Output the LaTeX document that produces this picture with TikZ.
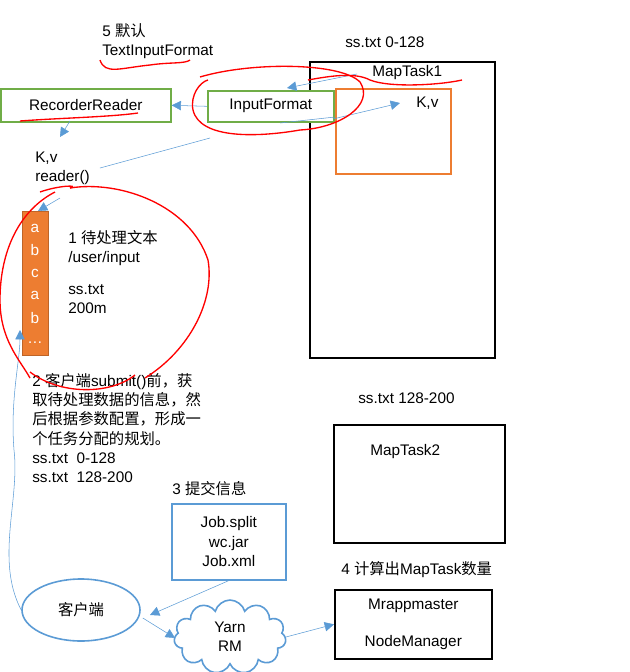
\documentclass[tikz,border=0pt]{standalone}
\usepackage{fontspec}
\setmainfont{Liberation Sans}
\newfontfamily\cjk{Noto Sans CJK SC}
\newcommand{\zh}[1]{{\cjk #1}}
\usetikzlibrary{shapes.geometric,shapes.symbols,arrows.meta}
\definecolor{gbox}{RGB}{112,173,71}
\definecolor{obox}{RGB}{237,125,49}
\definecolor{bl}{RGB}{91,155,213}
\begin{document}
\begin{tikzpicture}[x=0.75pt,y=-0.75pt,
  txt/.style={font=\fontsize{11.5}{14.5}\selectfont,inner sep=0pt,anchor=west,align=left},
  arr/.style={-{Triangle[length=7pt,width=7pt]},draw=bl,thin},
  ln/.style={draw=bl,thin},
  red/.style={draw=red,line width=1pt}]
\useasboundingbox (0,0) rectangle (630,672);
\node[txt] (t5) at (102,41) {5 \zh{默认}\\TextInputFormat};
\node[txt] (s1) at (345,42) {ss.txt 0-128};
\node[draw,line width=1.2pt,minimum width=185*0.75pt,minimum height=296*0.75pt,anchor=north west] (m1) at (309,61) {};
\node[txt] (m1l) at (372,73) {MapTask1};
\node[draw=obox,line width=1.2pt,minimum width=115*0.75pt,minimum height=85*0.75pt,anchor=north west] (ob) at (335,88) {};
\node[txt] (kv1) at (416,103) {K,v};
\node[draw=gbox,line width=1.2pt,fill=white,minimum width=170*0.75pt,minimum height=33*0.75pt,anchor=north west,font=\fontsize{11.5}{14}\selectfont] (rr) at (0,88) {RecorderReader};
\node[draw=gbox,line width=1.2pt,fill=white,minimum width=126*0.75pt,minimum height=31*0.75pt,anchor=north west,font=\fontsize{11.5}{14}\selectfont] (inf) at (207,90) {InputFormat};
\node[txt] (kv2) at (35,168) {K,v\\reader()};
\coordinate (lnA) at (100,168);
\coordinate (lnB) at (335,117);
\draw[arr] (inf.west) -- (rr.east);
\draw[arr] (357,74) -- (287,88);
\draw[arr] (333,119) -- (400,103);
\draw[arr] (70,121) -- (60,137);
\draw[ln] (lnA) -- (210,138);
\draw[ln] (280,123) -- (lnB);
\node[draw=obox!80!black,fill=obox,minimum width=26*0.75pt,minimum height=144*0.75pt,anchor=north west,inner sep=0pt] (bar) at (22,211) {};
\foreach \c/\y in {a/228,b/250,c/273,a/295,b/318,\dots/343}
  \node[text=white,font=\fontsize{11.5}{14}\selectfont] at (35,\y) {\c};
\draw[arr] (60,198) -- (38,211);
\node[txt] (t1) at (68,248) {1 \zh{待处理文本}\\/user/input};
\node[txt] (t1b) at (68,299) {ss.txt\\200m};
\node[txt] (t2) at (32,428) {2 \zh{客户端}submit()\zh{前，获}\\\zh{取待处理数据的信息，然}\\\zh{后根据参数配置，形成一}\\\zh{个任务分配的规划。}\\ss.txt\ \ 0-128\\ss.txt\ \ 128-200};
\node[txt] (s2) at (358,398) {ss.txt 128-200};
\node[draw,line width=1.2pt,minimum width=171*0.75pt,minimum height=118*0.75pt,anchor=north west] (m2) at (333,424) {};
\node[txt] (m2l) at (370,452) {MapTask2};
\node[txt] (t3) at (172,489) {3 \zh{提交信息}};
\node[draw=bl,line width=1.2pt,minimum width=114*0.75pt,minimum height=76*0.75pt,anchor=north west,align=center,font=\fontsize{11.5}{14.5}\selectfont] (job) at (171,503) {Job.split\\wc.jar\\Job.xml};
\node[txt] (t4) at (341,570) {4 \zh{计算出}MapTask\zh{数量}};
\node[draw,line width=1.2pt,minimum width=157*0.75pt,minimum height=69*0.75pt,anchor=north west,align=center,font=\fontsize{11.5}{22}\selectfont] (nm) at (334,589) {Mrappmaster\\[6pt]NodeManager};
\node[ellipse,draw=bl,line width=1.2pt,minimum width=118*0.75pt,minimum height=62*0.75pt,font=\cjk\fontsize{11.5}{14}\selectfont] (cl) at (81,610) {客户端};
\node[cloud,draw=bl,line width=1.2pt,cloud puffs=11,aspect=1.8,minimum width=112*0.75pt,minimum height=62*0.75pt,align=center,font=\fontsize{11.5}{14.5}\selectfont] (rm) at (230,637) {Yarn\\RM};
\draw[arr] (cl.east) ++(2,8) -- (175,638);
\draw[arr] (job.south) -- (150,615);
\draw[arr] (rm.east) -- (nm.west);
\draw[arr] (cl.west) .. controls (-5,560) and (20,500) .. (14,450) .. controls (10,400) and (20,360) .. (20,330);
% red annotations
\draw[red] (100,60) .. controls (105,75) and (120,68) .. (150,65) .. controls (170,62) and (185,64) .. (190,60);
\draw[red] (200,77) .. controls (250,62) and (340,62) .. (360,82) .. controls (375,105) and (340,128) .. (300,130) .. controls (260,137) and (200,140) .. (193,110) .. controls (190,95) and (200,82) .. (208,80);
\draw[red] (20,121) .. controls (60,118) and (110,117) .. (138,113);
\draw[red] (308,80) .. controls (330,76) and (355,72) .. (370,80) .. controls (390,88) and (440,85) .. (462,80);
\draw[red] (40,192) .. controls (60,185) and (80,185) .. (70,188);
\draw[red] (70,188) .. controls (120,180) and (190,205) .. (208,260) .. controls (215,300) and (190,350) .. (145,378);
\draw[red] (55,192) .. controls (20,210) and (0,250) .. (0,300) .. controls (0,340) and (20,360) .. (30,378);
\draw[red] (30,372) .. controls (60,395) and (110,395) .. (135,375);
\end{tikzpicture}
\end{document}
